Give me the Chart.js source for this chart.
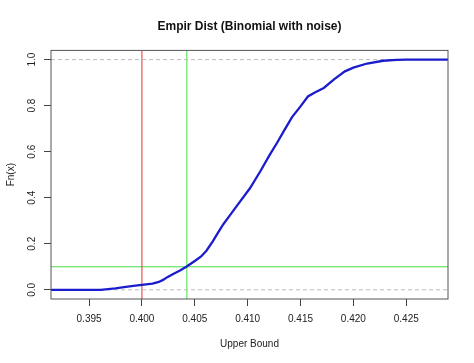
<!DOCTYPE html>
<html>
<head>
<meta charset="utf-8">
<script src="https://cdn.jsdelivr.net/npm/chart.js@4.4.1/dist/chart.umd.min.js"></script>
<style>
  html, body { margin: 0; padding: 0; background: #fff; }
  #wrap { width: 474px; height: 363px; position: relative; }
</style>
</head>
<body>
<div id="wrap"><canvas id="myChart"></canvas></div>
<script>
const upperBound = [0.3914, 0.3961, 0.3975, 0.3983, 0.3992, 0.4000, 0.4010, 0.4016, 0.4020, 0.4024,
  0.4030, 0.4036, 0.4042, 0.4050, 0.4056, 0.4061, 0.4067, 0.4072, 0.4077, 0.4083,
  0.4091, 0.4102, 0.4112, 0.4121, 0.4128, 0.4135, 0.4142, 0.4150, 0.4157, 0.4164,
  0.4172, 0.4182, 0.4192, 0.4200, 0.4213, 0.4228, 0.4241, 0.4250, 0.4290];
const fnValues = [0, 0, 0.006, 0.012, 0.017, 0.021, 0.027, 0.034, 0.043, 0.055,
  0.070, 0.084, 0.100, 0.125, 0.145, 0.170, 0.210, 0.248, 0.285, 0.322,
  0.372, 0.440, 0.515, 0.587, 0.640, 0.696, 0.750, 0.797, 0.840, 0.858,
  0.877, 0.915, 0.949, 0.965, 0.983, 0.995, 0.999, 1.0, 1.0];

const xTicks = [0.395, 0.400, 0.405, 0.410, 0.415, 0.420, 0.425];
const yTicks = [0, 0.2, 0.4, 0.6, 0.8, 1.0];
const xRange = [0.3914, 0.42895];
const yRange = [-0.04, 1.04];

const redLineX = 0.400;
const greenLineX = 0.40425;
const greenLineY = 0.1;
const dashedY = [0, 1];

const ctx = document.getElementById("myChart");

const vline = (x) => [{ x: x, y: yRange[0] }, { x: x, y: yRange[1] }];
const hline = (y) => [{ x: xRange[0], y: y }, { x: xRange[1], y: y }];

const boxAndLabels = {
  id: "boxAndLabels",
  afterDraw(chart) {
    const c = chart.ctx;
    const a = chart.chartArea;
    const ys = chart.scales.y;
    c.save();
    c.strokeStyle = "#555";
    c.lineWidth = 1;
    c.strokeRect(a.left, a.top, a.right - a.left, a.bottom - a.top);
    // rotated y tick labels like R
    c.fillStyle = "#222";
    c.font = "10px 'Liberation Sans', Arial, sans-serif";
    c.textAlign = "center";
    c.textBaseline = "middle";
    yTicks.forEach((v) => {
      c.save();
      c.translate(32.5, ys.getPixelForValue(v));
      c.rotate(-Math.PI / 2);
      c.fillText(v.toFixed(1), 0, 0);
      c.restore();
    });
    c.restore();
  },
};

const lineStyle = { showLine: true, pointRadius: 0, fill: false, tension: 0 };

new Chart(ctx, {
  type: "scatter",
  data: {
    datasets: [
      {
        ...lineStyle,
        data: upperBound.map((x, i) => ({ x: x, y: fnValues[i] })),
        borderColor: "#1c1ccf",
        borderWidth: 2.3,
      },
      { ...lineStyle, data: hline(dashedY[0]), borderColor: "#bbb", borderWidth: 1, borderDash: [4, 3] },
      { ...lineStyle, data: hline(dashedY[1]), borderColor: "#bbb", borderWidth: 1, borderDash: [4, 3] },
      { ...lineStyle, data: vline(redLineX), borderColor: "#ee3030", borderWidth: 1 },
      { ...lineStyle, data: vline(greenLineX), borderColor: "#44dd44", borderWidth: 1 },
      { ...lineStyle, data: hline(greenLineY), borderColor: "#44dd44", borderWidth: 1 },
    ],
  },
  plugins: [boxAndLabels],
  options: {
    responsive: true,
    maintainAspectRatio: false,
    animation: false,
    layout: { padding: { top: 0, right: 26, bottom: 0, left: 0 } },
    plugins: {
      legend: { display: false },
      tooltip: { enabled: false },
      title: {
        display: true,
        text: "Empir Dist (Binomial with noise)",
        fullSize: false,
        color: "#111",
        font: { family: "'Liberation Sans', Arial, sans-serif", size: 12, weight: "bold" },
        padding: { top: 19, bottom: 17 },
      },
    },
    scales: {
      x: {
        type: "linear",
        min: xRange[0],
        max: xRange[1],
        afterBuildTicks: (s) => { s.ticks = xTicks.map((v) => ({ value: v })); },
        afterFit: (s) => { s.height = 64; },
        grid: { drawOnChartArea: false, drawTicks: true, tickLength: 7, color: "#444" },
        border: { display: false },
        ticks: {
          color: "#222",
          padding: 7,
          maxRotation: 0,
          font: { family: "'Liberation Sans', Arial, sans-serif", size: 10 },
          callback: (v) => v.toFixed(3),
        },
        title: {
          display: true,
          text: "Upper Bound",
          color: "#222",
          font: { family: "'Liberation Sans', Arial, sans-serif", size: 10 },
          padding: { top: 0, bottom: 13 },
        },
      },
      y: {
        min: yRange[0],
        max: yRange[1],
        afterBuildTicks: (s) => { s.ticks = yTicks.map((v) => ({ value: v })); },
        afterFit: (s) => { s.width = 51; },
        grid: { drawOnChartArea: false, drawTicks: true, tickLength: 7, color: "#444" },
        border: { display: false },
        ticks: { display: false },
        title: {
          display: true,
          text: "Fn(x)",
          color: "#222",
          font: { family: "'Liberation Sans', Arial, sans-serif", size: 10 },
          padding: { top: 5, bottom: 0 },
        },
      },
    },
  },
});
</script>
</body>
</html>
